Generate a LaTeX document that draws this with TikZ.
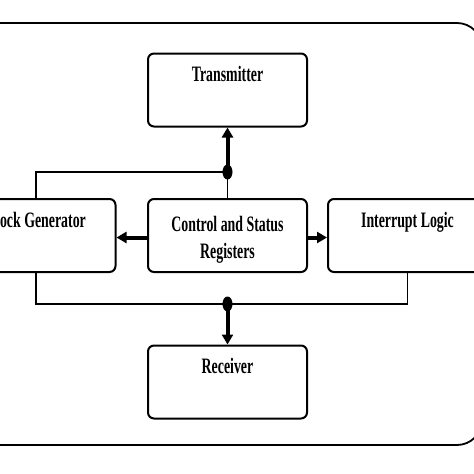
\documentclass[tikz,border=0pt]{standalone}
\usepackage{graphicx}
\usepackage{fontspec}
\setmainfont{Liberation Serif}
\usetikzlibrary{arrows.meta,shapes.geometric}
\newcommand\sq[1]{\scalebox{0.63}[1]{#1}}
\tikzset{
  block/.style={draw, line width=2pt, rounded corners=6pt, minimum width=159pt, minimum height=73pt, inner sep=0pt},
  lbl/.style={anchor=north, inner sep=0pt, font=\fontsize{22}{27}\selectfont\bfseries, yshift=-14pt},
  wire/.style={line width=1.8pt},
  bus/.style={line width=4pt, -{Triangle[width=11pt,length=10pt]}},
  junc/.style={ellipse, fill=black, inner sep=0pt, minimum width=10pt, minimum height=15pt},
  frame/.style={line width=1.8pt, rounded corners=25pt}
}
\begin{document}
\begin{tikzpicture}[x=1pt,y=-1pt]
\useasboundingbox (0,0) rectangle (474,474);
\clip (0,0) rectangle (474,474);
\fill[white] (0,0) rectangle (474,474);
\draw[frame] (-40,23) rectangle (482,445);
\node[block] (tx) at (227.5,90) {};
\node[block] (csr) at (227.5,235.5) {};
\node[block] (clk) at (36,235.5) {};
\node[block] (intr) at (407.5,235.5) {};
\node[block] (rx) at (227.5,382) {};
\node[lbl] (txt) at (tx.north) {\sq{Transmitter}};
\node[lbl] (csrt) at (csr.north) {\sq{\begin{tabular}{@{}c@{}}Control and Status\\Registers\end{tabular}}};
\node[lbl] (clkt) at (clk.north) {\sq{Clock Generator}};
\node[lbl] (intrt) at (intr.north) {\sq{Interrupt Logic}};
\node[lbl] (rxt) at (rx.north) {\sq{Receiver}};
\node[junc] (d1) at (227.5,172) {};
\node[junc] (d2) at (227.5,304) {};
\draw[wire] (clk.north) |- (d1.center);
\draw[wire] (csr.north) -- (d1.center);
\draw[bus] (d1.center) -- (tx.south);
\draw[wire] (clk.south) |- (d2.center) -| (intr.south);
\draw[bus] (d2.center) -- (rx.north);
\draw[bus] ([yshift=-2pt]csr.west) -- ([yshift=-2pt]clk.east);
\draw[bus] ([yshift=-2pt]csr.east) -- ([yshift=-2pt]intr.west);
\end{tikzpicture}
\end{document}
